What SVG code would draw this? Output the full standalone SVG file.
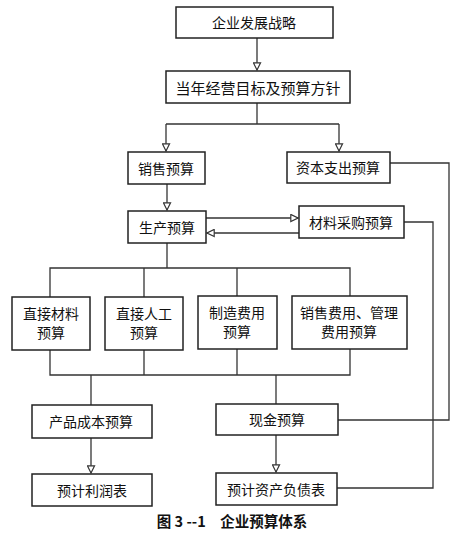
<svg xmlns="http://www.w3.org/2000/svg" width="469" height="539" viewBox="0 0 469 539">
<defs>
<style>
.box{fill:#fff;stroke:#222;stroke-width:1.5}
.t{font-family:"Noto Sans CJK SC","Noto Sans",sans-serif;font-size:14px;fill:#111;text-anchor:middle;dominant-baseline:central}
.ln{fill:none;stroke:#333;stroke-width:1.3}
.cap{font-family:"Noto Sans CJK SC","Noto Sans",sans-serif;font-size:14.5px;font-weight:bold;fill:#111;text-anchor:middle}
</style>
<marker id="ah" viewBox="0 0 10 10" refX="9" refY="5" markerWidth="9" markerHeight="9" markerUnits="userSpaceOnUse" orient="auto">
<path d="M1,1 L9,5 L1,9 Z" fill="#fff" stroke="#333" stroke-width="1.3"/>
</marker>
</defs>
<rect width="469" height="539" fill="#fff"/>
<g id="connectors">
<line class="ln" x1="257" y1="38" x2="257" y2="70" marker-end="url(#ah)"/>
<polyline class="ln" points="257,103 257,124"/>
<line class="ln" x1="166" y1="124" x2="339" y2="124"/>
<line class="ln" x1="166" y1="124" x2="166" y2="151" marker-end="url(#ah)"/>
<line class="ln" x1="339" y1="124" x2="339" y2="151" marker-end="url(#ah)"/>
<line class="ln" x1="167" y1="184" x2="167" y2="210" marker-end="url(#ah)"/>
<line class="ln" x1="206" y1="218" x2="298" y2="218" marker-end="url(#ah)"/>
<line class="ln" x1="299" y1="233" x2="207" y2="233" marker-end="url(#ah)"/>
<polyline class="ln" points="390,163 449,163 449,420 338,420"/>
<polyline class="ln" points="404,222 433,222 433,488 337,488"/>
<polyline class="ln" points="167,243 167,268"/>
<polyline class="ln" points="50,297 50,268 350,268 350,296"/>
<line class="ln" x1="144" y1="268" x2="144" y2="297"/>
<line class="ln" x1="237" y1="268" x2="237" y2="296"/>
<polyline class="ln" points="50,350 50,375 350,375 350,349"/>
<line class="ln" x1="144" y1="350" x2="144" y2="375"/>
<line class="ln" x1="237" y1="349" x2="237" y2="375"/>
<line class="ln" x1="91" y1="375" x2="91" y2="405"/>
<line class="ln" x1="276" y1="375" x2="276" y2="404"/>
<line class="ln" x1="91" y1="438" x2="91" y2="473" marker-end="url(#ah)"/>
<line class="ln" x1="276" y1="435" x2="276" y2="472" marker-end="url(#ah)"/>
</g>
<g id="n1"><rect class="box" x="176" y="7" width="157" height="31"/><text class="t" x="254" y="22">企业发展战略</text></g>
<g id="n2"><rect class="box" x="166" y="71" width="184" height="32"/><text class="t" x="258" y="87" style="font-size:15px">当年经营目标及预算方针</text></g>
<g id="n3"><rect class="box" x="128" y="152" width="77" height="32"/><text class="t" x="166" y="168">销售预算</text></g>
<g id="n4"><rect class="box" x="287" y="152" width="103" height="31"/><text class="t" x="338" y="167">资本支出预算</text></g>
<g id="n5"><rect class="box" x="128" y="211" width="78" height="32"/><text class="t" x="167" y="227">生产预算</text></g>
<g id="n6"><rect class="box" x="299" y="206" width="105" height="32"/><text class="t" x="351" y="222">材料采购预算</text></g>
<g id="n7"><rect class="box" x="12" y="297" width="78" height="53"/><text class="t" x="51" y="313">直接材料</text><text class="t" x="51" y="332">预算</text></g>
<g id="n8"><rect class="box" x="105" y="297" width="78" height="53"/><text class="t" x="144" y="313">直接人工</text><text class="t" x="144" y="332">预算</text></g>
<g id="n9"><rect class="box" x="198" y="296" width="79" height="53"/><text class="t" x="237" y="312">制造费用</text><text class="t" x="237" y="331">预算</text></g>
<g id="n10"><rect class="box" x="292" y="296" width="115" height="53"/><text class="t" x="349" y="312">销售费用、管理</text><text class="t" x="349" y="331">费用预算</text></g>
<g id="n11"><rect class="box" x="32" y="405" width="120" height="33"/><text class="t" x="91" y="421">产品成本预算</text></g>
<g id="n12"><rect class="box" x="216" y="404" width="122" height="31"/><text class="t" x="277" y="419">现金预算</text></g>
<g id="n13"><rect class="box" x="32" y="474" width="120" height="32"/><text class="t" x="92" y="490">预计利润表</text></g>
<g id="n14"><rect class="box" x="216" y="473" width="121" height="32"/><text class="t" x="276" y="489">预计资产负债表</text></g>
<text class="cap" x="232" y="527">图 3 --1　企业预算体系</text>
</svg>
